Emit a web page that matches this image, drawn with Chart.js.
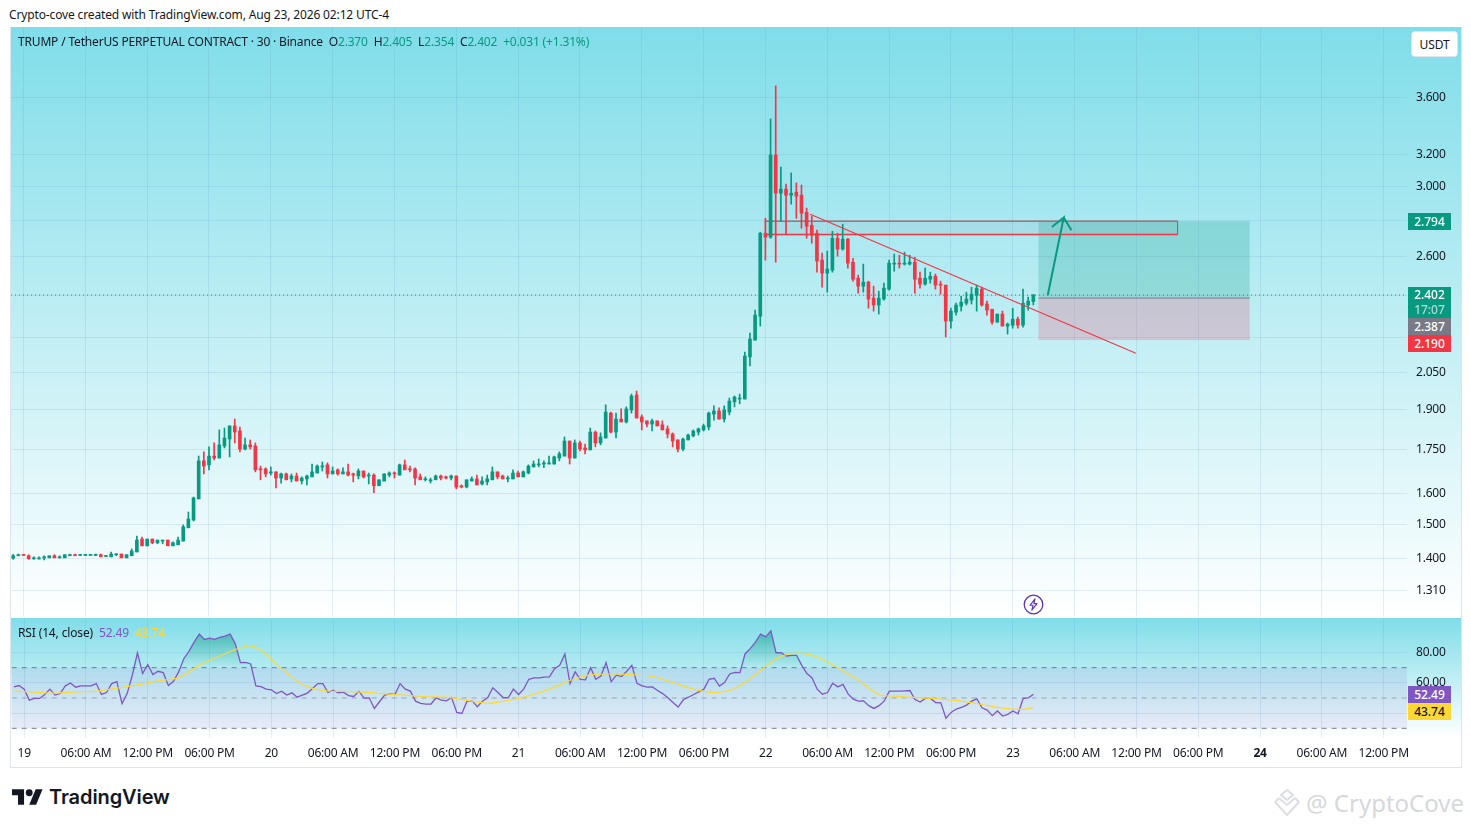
<!DOCTYPE html>
<html><head><meta charset="utf-8">
<style>
html,body{margin:0;padding:0;background:#fff;width:1471px;height:827px;overflow:hidden;font-family:"Noto Sans",sans-serif;color:#131722}
canvas{position:absolute;display:block}
.t{position:absolute;white-space:nowrap;font-size:12px;line-height:16px;letter-spacing:-.14px}
.tag{position:absolute;left:1408px;width:43px;text-align:center;font-size:12px;font-weight:500;color:#fff;line-height:17px}
#frame{position:absolute;left:10px;top:27px;width:1450px;height:739px;border:1px solid #e0e3eb;}
</style></head><body>
<div id="frame"></div>
<canvas id="main" width="1450" height="590" style="left:11px;top:27px;background:linear-gradient(#7fdde9,#ffffff)"></canvas>
<canvas id="rsi" width="1450" height="149" style="left:11px;top:618px;background:linear-gradient(#7fdde9 0,#ffffff 120px)"></canvas>

<div class="t" style="left:9px;top:7px" id="credit">Crypto-cove created with TradingView.com, Aug 23, 2026 02:12 UTC-4</div>
<div class="t" style="left:18px;top:34px;letter-spacing:-.17px">TRUMP / TetherUS PERPETUAL CONTRACT · 30 · Binance &nbsp;O<span style="color:#089981">2.370</span> &nbsp;H<span style="color:#089981">2.405</span> &nbsp;L<span style="color:#089981">2.354</span> &nbsp;C<span style="color:#089981">2.402</span> &nbsp;<span style="color:#089981">+0.031 (+1.31%)</span></div>
<div class="t" style="left:18px;top:625px">RSI (14, close) &nbsp;<span style="color:#7e57c2">52.49</span> &nbsp;<span style="color:#fdd835">43.74</span></div>

<div class="t" style="left:1411px;top:31px;width:45px;height:24px;line-height:26px;text-align:center;background:#fff;border:1px solid #e0e3eb;border-radius:4px">USDT</div>

<div class="tag" style="top:213px;height:17px;background:#089981">2.794</div>
<div class="tag" style="top:287px;height:31px;background:#089981;line-height:15px">2.402<br><span style="opacity:.65">17:07</span></div>
<div class="tag" style="top:318px;height:17px;background:#787b86">2.387</div>
<div class="tag" style="top:335px;height:17px;background:#f23645">2.190</div>
<div class="tag" style="top:686px;height:17px;background:#7e57c2">52.49</div>
<div class="tag" style="top:703px;height:17px;background:#fdd835;color:#131722">43.74</div>

<svg style="position:absolute;left:1023px;top:594px" width="21" height="21" viewBox="0 0 21 21"><circle cx="10.5" cy="10.5" r="9.3" fill="none" stroke="#5e35b1" stroke-width="1.3"/><path d="M12 4.8 7 11.3h3l-1.2 4.9 5.2-6.6h-3.1z" fill="none" stroke="#5e35b1" stroke-width="1.1" stroke-linejoin="round"/></svg>

<svg style="position:absolute;left:12px;top:788px" width="31" height="18" viewBox="0 4 36 18"><path d="M14 22H7V11H0V4h14v18zM28 22h-8l7.5-18h8L28 22z" fill="#131722"/><circle cx="20" cy="8" r="4" fill="#131722"/></svg>
<div class="t" style="left:49px;top:785px;font:600 20px/24px Inter,sans-serif;letter-spacing:-.1px">TradingView</div>

<svg style="position:absolute;left:1273px;top:788px" width="28" height="30" viewBox="0 0 28 30"><g fill="none" stroke="#dcdee1" stroke-width="2"><path d="M14 2l6 5-6 5-6-5z"/><path d="M6 10l8 7 8-7"/><path d="M2 14l4-4M26 14l-4-4"/><path d="M2 14l12 13 12-13"/></g></svg>
<div class="t" style="left:1306px;top:786px;font:400 24px/34px 'Noto Sans',sans-serif;color:#d6d8db;letter-spacing:0">@ CryptoCove</div>

<script src="https://cdn.jsdelivr.net/npm/chart.js@4/dist/chart.umd.js"></script>
<script>
const firstBar = -2;
const opens = [1.401,1.408,1.411,1.408,1.399,1.399,1.402,1.402,1.408,1.402,
1.402,1.408,1.411,1.409,1.409,1.409,1.409,1.411,1.406,1.405,
1.411,1.413,1.402,1.408,1.419,1.457,1.437,1.457,1.446,1.451,
1.454,1.437,1.440,1.451,1.491,1.515,1.582,1.710,1.696,1.727,
1.720,1.763,1.788,1.837,1.818,1.752,1.767,1.763,1.682,1.682,
1.668,1.672,1.651,1.665,1.648,1.658,1.641,1.648,1.655,1.668,
1.689,1.696,1.665,1.679,1.665,1.672,1.665,1.658,1.675,1.658,
1.661,1.625,1.641,1.661,1.668,1.661,1.696,1.682,1.682,1.655,
1.645,1.641,1.645,1.658,1.655,1.651,1.658,1.625,1.621,1.641,
1.648,1.631,1.638,1.645,1.672,1.658,1.648,1.648,1.668,1.655,
1.668,1.689,1.696,1.699,1.699,1.699,1.720,1.727,1.781,1.720,
1.774,1.756,1.749,1.814,1.774,1.792,1.886,1.814,1.863,1.852,
1.898,1.957,1.871,1.856,1.844,1.856,1.841,1.826,1.807,1.785,
1.752,1.785,1.800,1.814,1.822,1.833,1.882,1.894,1.863,1.890,
1.930,1.941,1.941,2.116,2.190,2.300,2.726,2.704,3.200,2.959,
2.984,2.947,2.965,2.947,2.846,2.771,2.726,2.580,2.512,2.527,
2.698,2.639,2.693,2.569,2.486,2.446,2.466,2.387,2.353,2.382,
2.431,2.559,2.564,2.559,2.559,2.569,2.486,2.456,2.481,2.496,
2.456,2.451,2.277,2.319,2.348,2.362,2.377,2.401,2.431,2.358,
2.333,2.272,2.310,2.254,2.258,2.286,2.258,2.353,2.370];
const highs = [1.412,1.413,1.411,1.411,1.405,1.405,1.408,1.408,1.411,1.408,
1.411,1.413,1.413,1.411,1.411,1.411,1.413,1.413,1.408,1.419,
1.413,1.413,1.411,1.428,1.466,1.463,1.457,1.457,1.454,1.454,
1.454,1.449,1.463,1.500,1.540,1.588,1.727,1.742,1.760,1.774,
1.822,1.829,1.837,1.863,1.833,1.792,1.785,1.774,1.692,1.686,
1.689,1.672,1.668,1.668,1.665,1.668,1.655,1.661,1.699,1.696,
1.706,1.703,1.689,1.682,1.686,1.699,1.668,1.682,1.675,1.668,
1.665,1.645,1.665,1.672,1.672,1.699,1.713,1.692,1.686,1.665,
1.655,1.651,1.661,1.661,1.658,1.661,1.658,1.628,1.645,1.655,
1.661,1.655,1.661,1.689,1.672,1.661,1.658,1.679,1.675,1.675,
1.696,1.710,1.717,1.710,1.727,1.727,1.742,1.796,1.781,1.785,
1.781,1.770,1.829,1.818,1.811,1.918,1.890,1.886,1.902,1.910,
1.961,1.973,1.879,1.856,1.863,1.856,1.856,1.837,1.811,1.785,
1.792,1.807,1.822,1.829,1.844,1.890,1.914,1.906,1.914,1.945,
1.953,1.961,2.137,2.222,2.329,2.732,2.811,3.445,3.686,3.122,
3.015,3.084,3.022,3.009,2.870,2.823,2.743,2.617,2.628,2.737,
2.726,2.777,2.698,2.590,2.502,2.559,2.471,2.446,2.421,2.461,
2.580,2.612,2.606,2.622,2.606,2.595,2.517,2.538,2.517,2.507,
2.471,2.451,2.338,2.362,2.396,2.416,2.441,2.451,2.441,2.372,
2.333,2.310,2.324,2.268,2.338,2.296,2.431,2.392,2.405];
const lows = [1.398,1.408,1.409,1.398,1.398,1.398,1.396,1.402,1.402,1.401,
1.402,1.408,1.408,1.409,1.409,1.409,1.408,1.405,1.406,1.405,
1.408,1.402,1.402,1.408,1.419,1.437,1.437,1.443,1.443,1.443,
1.437,1.437,1.440,1.451,1.491,1.512,1.582,1.665,1.679,1.713,
1.720,1.756,1.724,1.774,1.742,1.749,1.752,1.672,1.645,1.655,
1.661,1.618,1.634,1.645,1.638,1.641,1.631,1.628,1.655,1.668,
1.675,1.651,1.665,1.661,1.665,1.658,1.638,1.648,1.651,1.631,
1.602,1.625,1.641,1.655,1.651,1.661,1.679,1.672,1.628,1.645,
1.641,1.634,1.645,1.645,1.648,1.645,1.615,1.618,1.618,1.641,
1.628,1.628,1.628,1.645,1.648,1.648,1.638,1.648,1.655,1.655,
1.665,1.689,1.689,1.686,1.699,1.699,1.710,1.727,1.699,1.720,
1.745,1.735,1.749,1.760,1.767,1.792,1.811,1.792,1.852,1.848,
1.886,1.867,1.822,1.833,1.818,1.837,1.822,1.792,1.760,1.742,
1.745,1.785,1.796,1.803,1.818,1.822,1.859,1.863,1.852,1.879,
1.910,1.922,1.941,2.077,2.190,2.254,2.580,2.698,2.569,2.794,
2.719,2.893,2.811,2.754,2.698,2.671,2.517,2.441,2.416,2.517,
2.601,2.633,2.538,2.471,2.411,2.416,2.338,2.324,2.310,2.377,
2.426,2.522,2.538,2.554,2.554,2.411,2.436,2.451,2.461,2.431,
2.406,2.204,2.244,2.305,2.324,2.353,2.358,2.324,2.348,2.305,
2.263,2.272,2.254,2.217,2.244,2.244,2.249,2.329,2.354];
const closes = [1.408,1.411,1.409,1.399,1.402,1.402,1.405,1.408,1.402,1.405,
1.411,1.411,1.408,1.411,1.411,1.411,1.411,1.405,1.408,1.413,
1.413,1.402,1.411,1.422,1.454,1.437,1.457,1.446,1.454,1.454,
1.437,1.446,1.454,1.494,1.518,1.585,1.710,1.692,1.727,1.720,
1.767,1.792,1.837,1.814,1.752,1.767,1.760,1.679,1.679,1.665,
1.672,1.651,1.665,1.645,1.658,1.641,1.651,1.658,1.672,1.692,
1.692,1.665,1.675,1.665,1.672,1.661,1.661,1.675,1.655,1.661,
1.625,1.645,1.665,1.668,1.665,1.696,1.679,1.679,1.651,1.645,
1.648,1.645,1.658,1.651,1.651,1.658,1.621,1.621,1.645,1.648,
1.628,1.641,1.648,1.672,1.655,1.648,1.651,1.668,1.655,1.672,
1.692,1.699,1.699,1.703,1.703,1.724,1.735,1.781,1.720,1.774,
1.752,1.749,1.814,1.774,1.796,1.890,1.814,1.863,1.852,1.902,
1.953,1.867,1.852,1.844,1.856,1.837,1.822,1.807,1.781,1.752,
1.788,1.803,1.818,1.826,1.837,1.886,1.894,1.863,1.898,1.933,
1.949,1.945,2.120,2.195,2.305,2.726,2.704,3.200,2.959,2.984,
2.947,2.959,2.941,2.840,2.765,2.715,2.575,2.512,2.533,2.698,
2.639,2.693,2.564,2.481,2.446,2.466,2.382,2.353,2.387,2.436,
2.564,2.564,2.559,2.564,2.569,2.481,2.456,2.486,2.496,2.451,
2.451,2.277,2.324,2.353,2.367,2.382,2.406,2.436,2.353,2.329,
2.272,2.310,2.254,2.263,2.286,2.258,2.362,2.372,2.402];
const rsiValues = [57.3,58.2,55.8,48.6,49.7,49.7,52.3,55.8,51.9,52.9,
58,59.9,57.1,58,58,58,59.5,52.3,53.6,59.5,
60.8,46.2,52.9,65,79.8,66.1,72,65.4,67.6,66.7,
58.2,61,67.2,75.9,80.7,86.8,92.1,88.6,89.5,88.6,
89.9,90.8,92.1,85.7,73.3,73.5,72.4,58,57.5,55.8,
55.4,52.9,54.5,51.9,53.4,50.5,51.9,53.2,56.2,59.5,
59.5,53.6,55.1,53.4,53.8,51.6,51,54.5,49.9,50.1,
43.1,47.5,51.9,52.7,52.3,59.5,55.8,54.5,47.9,46.4,
46,46,50.1,48.6,48.1,50.3,40.5,39.8,47.9,48.1,
44.2,47.9,50.1,56.7,53.6,50.3,50.1,55.8,52.3,55.8,
62.3,63.2,63.2,63.7,63.9,69.3,71.5,79,59.5,67.2,
62.3,61.9,70,62.3,64.5,73.3,60.8,65,64.1,67.6,
71.5,59.7,58,57.1,57.3,54.9,52.9,50.1,47,44,
48.8,50.5,52.3,54,55.8,62.3,63,57.8,60.2,65.8,
66.9,66.7,79.2,82.5,86.8,92.1,90.3,94.3,79.8,79.8,
77.7,78.1,78.1,71.5,66.1,63.2,55.8,52.5,53.6,59.7,
57.3,58.9,52.7,49.2,47.9,48.1,44.9,43.1,44.9,47.9,
54.5,54.5,54.5,54.7,54.9,49,47.3,49.7,49.7,47,
46.8,36.6,40.5,42.7,43.8,45.3,47.9,49.4,43.5,42,
38.3,41.4,38.1,39.2,41.4,39.6,49.7,50.1,52.49];
const maBars = [-2,2,6,10,14,18,22,26,30,34,38,42,44,46,50,54,58,62,66,70,74,78,82,86,90,94,98,102,106,110,114,118,122,126,130,134,138,142,146,150,154,158,162,166,170,174,178,182,186,190,194,196];
const maValues = [54.5,53.8,53.2,54,54.5,56.4,58.6,61.3,63.4,71.5,77.7,83.1,84.4,81.4,69.3,58.9,54.9,54.3,53.8,52.7,51.9,50.8,50.5,48.4,46.6,48.4,51.4,55.8,61.5,65.2,65.8,65.4,64.1,60.2,55.8,53.6,56.2,65.4,75.9,79.6,77,69.8,61.7,52.3,51,50.1,49.2,47.9,45.7,43.3,42.5,43.74];

const priceTicks = [3.6,3.2,3.0,2.8,2.6,2.4,2.2,2.05,1.9,1.75,1.6,1.5,1.4,1.31];
const priceTicksUnlabeled = [2.8,2.4,2.2];
const rsiTicks = [80,60,40];
const rsiTicksUnlabeled = [40];
const rsiBands = [70,50,30];
const timeTickBars = [0,12,24,36,48,60,72,84,96,108,120,132,144,156,168,180,192,204,216,228,240,252,264];
const timeTickLabels = ['19','06:00 AM','12:00 PM','06:00 PM','20','06:00 AM','12:00 PM','06:00 PM','21','06:00 AM','12:00 PM','06:00 PM','22','06:00 AM','12:00 PM','06:00 PM','23','06:00 AM','12:00 PM','06:00 PM','24','06:00 AM','12:00 PM'];

const xRange = [-2.43,268.53];
const priceRange = [1.242,4.159];
const rsiRange = [23.6,102.3];
const lastClose = 2.402;
const longBoxBars = [197,238];
const targetPrice = 2.794, entryPrice = 2.387, stopPrice = 2.190;
const zoneBars = [144,224];
const zoneTop = 2.794, zoneBottom = 2.719;
const trendBars = [152.7,215.9];
const trendPrices = [2.834,2.132];
const arrowBars = [198.8,201.9,199.6,201.9,203.4];
const arrowPrices = [2.401,2.815,2.761,2.815,2.743];

const GREEN='#089981', RED='#f23645', GRID='rgba(90,140,190,.15)';
const FONT='"Noto Sans",sans-serif';
const barIdx = opens.map((_,k)=>k+firstBar);
const candleColors = opens.map((o,k)=>closes[k]>=o?GREEN:RED);
const wy = 54;

const spacing = {id:'spacing',beforeDraw(c){c.ctx.letterSpacing='-0.2px';}};
const boxes = {id:'boxes',beforeDatasetsDraw(c){
  const {x,y}=c.scales,g=c.ctx;
  const rect=(b,t,bot,fill)=>{const X=x.getPixelForValue(b[0]),W=x.getPixelForValue(b[1])-X,Y=y.getPixelForValue(t),H=y.getPixelForValue(bot)-Y;g.fillStyle=fill;g.fillRect(X,Y,W,H);return [X,Y,W,H];};
  g.save();
  rect(longBoxBars,targetPrice,entryPrice,'rgba(8,153,129,.22)');
  rect(longBoxBars,entryPrice,stopPrice,'rgba(237,78,111,.25)');
  const ey=y.getPixelForValue(entryPrice);
  g.strokeStyle='#787b86';g.lineWidth=1;g.beginPath();g.moveTo(x.getPixelForValue(longBoxBars[0]),ey);g.lineTo(x.getPixelForValue(longBoxBars[1]),ey);g.stroke();
  const r=rect(zoneBars,zoneTop,zoneBottom,'rgba(120,123,134,.09)');
  g.strokeStyle='#a8646c';g.lineWidth=1;g.strokeRect(r[0],r[1],r[2],0);g.strokeRect(r[0]+r[2],r[1],0,r[3]);g.strokeRect(r[0],r[1],0,r[3]);
  g.strokeStyle=RED;g.lineWidth=1.3;g.strokeRect(r[0],r[1]+r[3],r[2],0);
  g.restore();
}};

const noPad=s=>{s.paddingTop=0;s.paddingBottom=0;s.paddingLeft=0;s.paddingRight=0;};
const gridOpts={color:GRID,drawTicks:false,offset:false,lineWidth:1};
new Chart(document.getElementById('main'),{
  type:'bar',
  data:{datasets:[
    {type:'bar',order:5,grouped:false,barThickness:1,backgroundColor:candleColors,borderWidth:0,data:barIdx.map((b,k)=>({x:b,y:[lows[k],highs[k]]}))},
    {type:'bar',order:4,grouped:false,barThickness:3,minBarLength:1,backgroundColor:candleColors,borderWidth:0,data:barIdx.map((b,k)=>({x:b,y:[opens[k],closes[k]]}))},
    {type:'line',order:3,borderColor:GREEN,borderWidth:1,borderDash:[1,3],pointRadius:0,data:xRange.map(b=>({x:b,y:lastClose}))},
    {type:'line',order:2,borderColor:RED,borderWidth:1.2,pointRadius:0,data:trendBars.map((b,k)=>({x:b,y:trendPrices[k]}))},
    {type:'line',order:1,borderColor:GREEN,borderWidth:2,pointRadius:0,data:arrowBars.map((b,k)=>({x:b,y:arrowPrices[k]}))}
  ]},
  options:{responsive:false,animation:false,devicePixelRatio:1,events:[],
    layout:{padding:0},
    plugins:{legend:{display:false},tooltip:{enabled:false}},
    scales:{
      x:{type:'linear',min:xRange[0],max:xRange[1],offset:false,grid:gridOpts,border:{display:false},
        ticks:{display:false},afterBuildTicks:s=>{s.ticks=timeTickBars.map(v=>({value:v}))},afterFit:s=>{s.height=0;noPad(s);}},
      y:{type:'logarithmic',position:'right',bounds:'data',min:priceRange[0],max:priceRange[1],grid:{color:GRID,drawTicks:false},border:{display:false},
        afterBuildTicks:s=>{s.ticks=priceTicks.map(v=>({value:v}))},afterFit:s=>{s.width=wy;noPad(s);},
        ticks:{autoSkip:false,padding:9,color:'#131722',font:{family:FONT,size:12},major:{enabled:false},
          callback:v=>priceTicksUnlabeled.includes(v)?'':v.toFixed(3)}}
    }},
  plugins:[spacing,boxes]
});

const rsiDs={type:'line',order:1,borderColor:'#7e57c2',borderWidth:1.3,pointRadius:0,tension:0,
  fill:{target:{value:70},above:'rgba(8,153,129,.5)',below:'rgba(0,0,0,0)'},data:barIdx.map((b,k)=>({x:b,y:rsiValues[k]}))};
const dash=(v,col)=>({type:'line',order:4,borderColor:col,borderWidth:1,borderDash:[5,5],pointRadius:0,data:xRange.map(b=>({x:b,y:v}))});
const bandTop=dash(rsiBands[0],'#787b86');
bandTop.fill={target:{value:rsiBands[2]},above:'rgba(126,87,194,.1)',below:'rgba(126,87,194,.1)'};
const rsiChart=new Chart(document.getElementById('rsi'),{
  type:'line',
  data:{datasets:[bandTop,dash(rsiBands[1],'rgba(120,123,134,.6)'),dash(rsiBands[2],'#787b86'),rsiDs,
    {type:'line',order:0,borderColor:'#fdd835',borderWidth:1.2,pointRadius:0,tension:.3,fill:false,data:maBars.map((b,k)=>({x:b,y:maValues[k]}))}]},
  options:{responsive:false,animation:false,devicePixelRatio:1,events:[],
    layout:{padding:0},
    plugins:{legend:{display:false},tooltip:{enabled:false}},
    scales:{
      x:{type:'linear',min:xRange[0],max:xRange[1],grid:{color:GRID,drawTicks:false},border:{display:false},
        afterBuildTicks:s=>{s.ticks=timeTickBars.map(v=>({value:v}))},afterFit:s=>{s.height=29;noPad(s);},
        ticks:{autoSkip:false,maxRotation:0,minRotation:0,padding:8,color:'#131722',
          font:c=>({family:FONT,size:12,weight:(c.tick&&c.tick.value===240)?'700':'400'}),
          callback:v=>timeTickLabels[timeTickBars.indexOf(v)]}},
      y:{type:'linear',position:'right',min:rsiRange[0],max:rsiRange[1],grid:{color:GRID,drawTicks:false},border:{display:false},
        afterBuildTicks:s=>{s.ticks=rsiTicks.map(v=>({value:v}))},afterFit:s=>{s.width=wy;noPad(s);},
        ticks:{autoSkip:false,padding:9,color:'#131722',font:{family:FONT,size:12},
          callback:v=>rsiTicksUnlabeled.includes(v)?'':v.toFixed(2)}}
    }},
  plugins:[spacing]
});
const ys=rsiChart.scales.y;
const grad=rsiChart.ctx.createLinearGradient(0,ys.getPixelForValue(94),0,ys.getPixelForValue(70));
grad.addColorStop(0,'rgba(8,153,129,.55)');grad.addColorStop(1,'rgba(8,153,129,0)');
rsiDs.fill.above=grad;
rsiChart.update('none');
</script>
</body></html>
